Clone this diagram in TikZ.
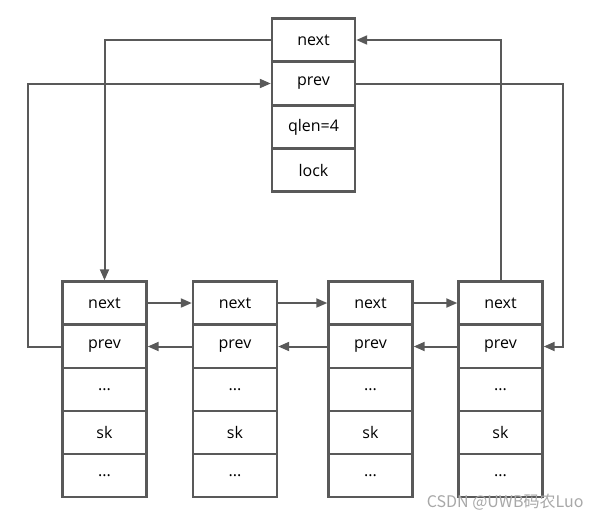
\documentclass[tikz,border=0pt]{standalone}
\usepackage{fontspec}
\setmainfont{Open Sans}
\newfontfamily\cjkfont{Noto Sans CJK SC}
\usetikzlibrary{arrows.meta}
\definecolor{lgray}{HTML}{595959}
\definecolor{wmgray}{HTML}{A8A8A8}
\tikzset{
  cell/.style={draw=lgray, line width=2.4pt, minimum width=84pt, minimum height=43pt, inner sep=0pt, font=\fontsize{16}{19}\selectfont},
  link/.style={draw=lgray, line width=2pt, -{Triangle[length=11pt,width=9pt]}}
}
\begin{document}
\begin{tikzpicture}[x=1pt,y=-1pt]
\useasboundingbox (0,0) rectangle (593,522);
% queue head
\node[cell, minimum width=83pt] (hnext) at (313.5,40){next};
\node[cell, minimum width=83pt] (hprev) at (313.5,83.5){prev};
\node[cell, minimum width=83pt] (hqlen) at (313.5,127){qlen=4};
\node[cell, minimum width=83pt] (hlock) at (313.5,170){lock};
% first skb
\node[cell] (s1next) at (104.5,303){next};
\node[cell] (s1prev) at (104.5,346.5){prev};
\node[cell] (s1dta) at (104.5,389.5){...};
\node[cell] (s1sk) at (104.5,432.5){sk};
\node[cell] (s1dtb) at (104.5,475.5){...};
% second skb
\node[cell] (s2next) at (235,303){next};
\node[cell] (s2prev) at (235,346.5){prev};
\node[cell] (s2dta) at (235,389.5){...};
\node[cell] (s2sk) at (235,432.5){sk};
\node[cell] (s2dtb) at (235,475.5){...};
% third skb
\node[cell] (s3next) at (370.5,303){next};
\node[cell] (s3prev) at (370.5,346.5){prev};
\node[cell] (s3dta) at (370.5,389.5){...};
\node[cell] (s3sk) at (370.5,432.5){sk};
\node[cell] (s3dtb) at (370.5,475.5){...};
% fourth skb
\node[cell] (s4next) at (500.5,303){next};
\node[cell] (s4prev) at (500.5,346.5){prev};
\node[cell] (s4dta) at (500.5,389.5){...};
\node[cell] (s4sk) at (500.5,432.5){sk};
\node[cell] (s4dtb) at (500.5,475.5){...};
% next pointers
\draw[link](s1next) -- (s2next);
\draw[link](s2next) -- (s3next);
\draw[link](s3next) -- (s4next);
\draw[link](hnext.west) -| (s1next.north);
\draw[link](s4next.north) |- (hnext.east);
% prev pointers
\draw[link](s2prev) -- (s1prev);
\draw[link](s3prev) -- (s2prev);
\draw[link](s4prev) -- (s3prev);
\draw[link](s1prev.west) -- (28,346.5) |- (hprev.west);
\draw[link](hprev.east) -- (563,83.5) |- (s4prev.east);
% watermark
\node[text=wmgray, font=\cjkfont\fontsize{16}{18}\selectfont, anchor=east] (mark) at (587,502){CSDN @UWB码农Luo};
\end{tikzpicture}
\end{document}
